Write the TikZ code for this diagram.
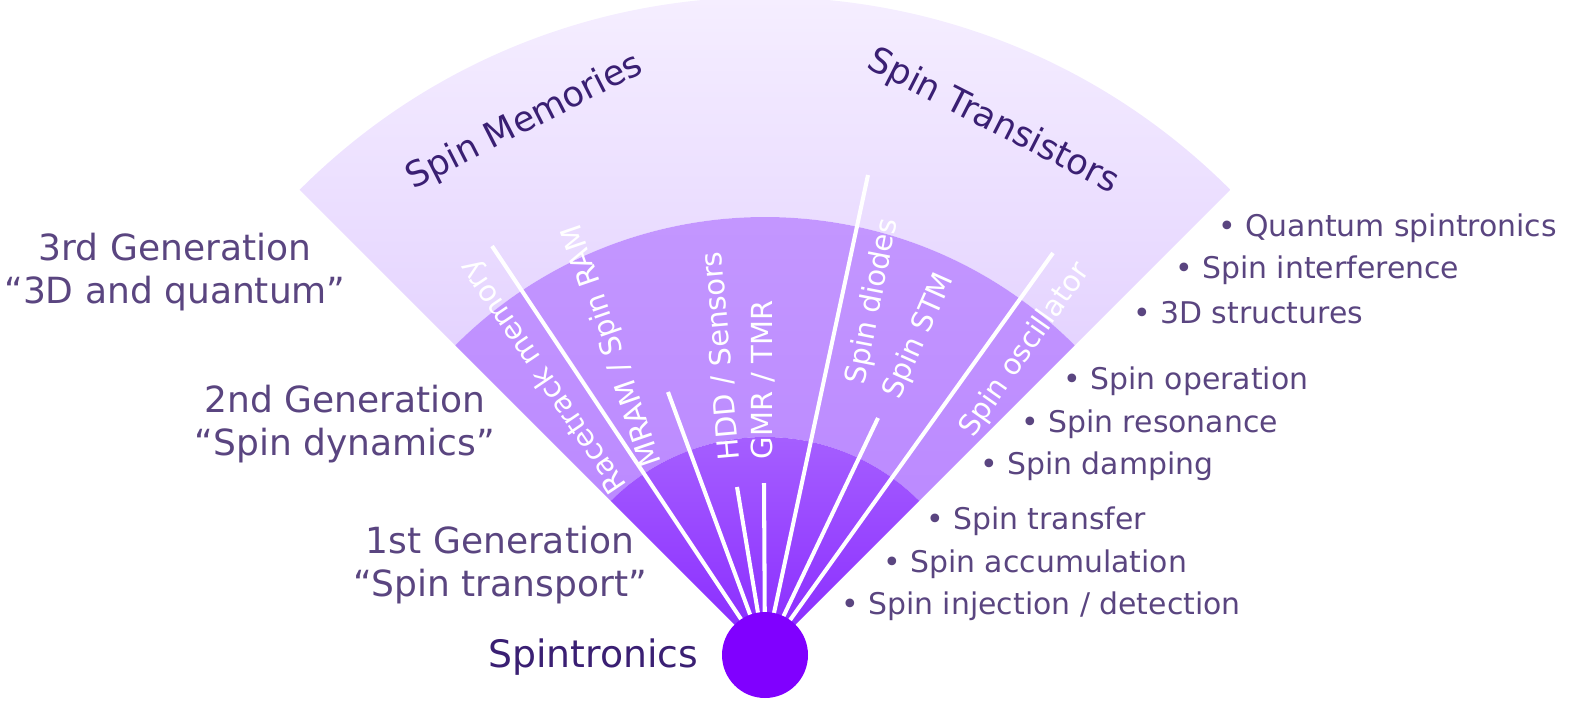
\documentclass[tikz,border=0pt]{standalone}
\usepackage{fontspec}
\setmainfont{DejaVu Sans}
\begin{document}
\begin{tikzpicture}[x=0.02cm,y=-0.02cm,
  lbl/.style={text=labc,font=\fontsize{20.5}{24}\selectfont,align=center},
  bul/.style={text=labc,font=\fontsize{17}{20}\selectfont,anchor=west},
  ttl/.style={text=ttlc,font=\fontsize{20}{23}\selectfont},
  wtxt/.style={text=white,font=\fontsize{16.5}{19}\selectfont},
  ray/.style={white,line width=2.3pt}]
\definecolor{labc}{HTML}{5A4580}
\definecolor{ttlc}{HTML}{3A1F73}
\definecolor{dotc}{HTML}{8000FF}
\useasboundingbox (0,0) rectangle (1592,714);
\coordinate (c) at (765,655);
% band 3
\shade[top color={rgb,255:red,248;green,243;blue,255}, bottom color={rgb,255:red,214;green,188;blue,255}]
  (c) ++(225:658) arc[start angle=225,end angle=315,radius=658] -- ++(135:220) arc[start angle=315,end angle=225,radius=438] -- cycle;
% band 2
\shade[top color={rgb,255:red,196;green,152;blue,255}, bottom color={rgb,255:red,184;green,132;blue,255}]
  (c) ++(225:438) arc[start angle=225,end angle=315,radius=438] -- ++(135:220) arc[start angle=315,end angle=225,radius=218] -- cycle;
% band 1
\shade[top color={rgb,255:red,168;green,100;blue,255}, bottom color={rgb,255:red,136;green,40;blue,255}]
  (c) -- ++(225:218) arc[start angle=225,end angle=315,radius=218] -- cycle;
% rays
\coordinate (e1) at (492,246);
\coordinate (e2) at (668,392);
\coordinate (e3) at (737,487);
\coordinate (e4) at (764,483);
\coordinate (e5) at (868,175);
\coordinate (e6) at (878,418);
\coordinate (e7) at (1053,253);
\foreach \i in {1,...,7} \draw[ray] (c) -- (e\i);
\node[circle,fill=dotc,minimum size=1.72cm,inner sep=0] (hub) at (c) {};
% ray labels
\node[wtxt,rotate=124] (t1) at (544,376) {Racetrack memory};
\node[wtxt,rotate=109] (t2) at (613,345) {MRAM / Spin RAM};
\node[wtxt,rotate=95] (t3) at (721,356) {HDD / Sensors};
\node[wtxt,rotate=90] (t4) at (763,380) {GMR / TMR};
\node[wtxt,rotate=79] (t5) at (873,302) {Spin diodes};
\node[wtxt,rotate=66] (t6) at (919,336) {Spin STM};
\node[wtxt,rotate=55] (t7) at (1025,350) {Spin oscillator};
% titles
\node[ttl,rotate=27] (m) at (525,122) {Spin Memories};
\node[ttl,rotate=-27] (tr) at (993,122) {Spin Transistors};
% generations
\node[lbl] (g3) at (175,272) {3rd Generation\\“3D and quantum”};
\node[lbl] (g2) at (345,424) {2nd Generation\\“Spin dynamics”};
\node[lbl] (g1) at (500,565) {1st Generation\\“Spin transport”};
\node[ttl,font=\fontsize{21.5}{25}\selectfont] (sp) at (593,657) {Spintronics};
% bullets
\node[bul] at (1212,228) {• Quantum spintronics};
\node[bul] at (1169,270) {• Spin interference};
\node[bul] at (1127,313) {• 3D structures};
\node[bul] at (1057,381) {• Spin operation};
\node[bul] at (1015,424) {• Spin resonance};
\node[bul] at (974,466) {• Spin damping};
\node[bul] at (920,521) {• Spin transfer};
\node[bul] at (877,564) {• Spin accumulation};
\node[bul] at (835,606) {• Spin injection / detection};
\end{tikzpicture}
\end{document}
